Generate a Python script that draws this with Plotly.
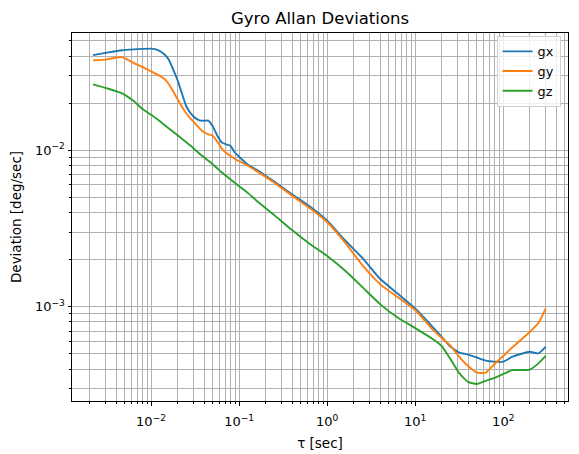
import plotly.graph_objects as go

tau = [0.00219, 0.00316, 0.00468, 0.00631, 0.00794, 0.0100, 0.0120, 0.0141, 0.0158, 0.0178,
       0.0200, 0.0224, 0.0251, 0.0282, 0.0316, 0.0355, 0.0398, 0.0447, 0.0501, 0.0562,
       0.0631, 0.0708, 0.0794, 0.0891, 0.100, 0.126, 0.158, 0.251, 0.398, 0.631,
       1.00, 1.58, 2.51, 3.98, 6.31, 10.0, 15.8, 20.0, 25.1, 31.6,
       39.8, 50.1, 63.1, 79.4, 100.0, 126.0, 158.0, 200.0, 251.0, 304.0]

gx = [0.0405, 0.0420, 0.0435, 0.0441, 0.0444, 0.0446, 0.0436, 0.0410, 0.0381, 0.0329,
      0.0280, 0.0231, 0.0191, 0.0172, 0.0161, 0.01553, 0.01543, 0.01547, 0.01422, 0.01247,
      0.01125, 0.01092, 0.01068, 0.00971, 0.00909, 0.00808, 0.00751, 0.00630, 0.00524, 0.00439,
      0.00355, 0.00267, 0.00205, 0.00151, 0.001214, 0.000974, 0.000742, 0.000641, 0.000557, 0.000510,
      0.000495, 0.000474, 0.000453, 0.000446, 0.000446, 0.000478, 0.000499, 0.000516, 0.000504, 0.000556]

gy = [0.03752, 0.03808, 0.03937, 0.03618, 0.03410, 0.03192, 0.03033, 0.02860, 0.02657, 0.02379,
      0.02115, 0.01895, 0.01722, 0.01589, 0.01487, 0.01381, 0.01303, 0.01265, 0.01237, 0.01141,
      0.01030, 0.00964, 0.00922, 0.00883, 0.00851, 0.00796, 0.00735, 0.00620, 0.00513, 0.00427,
      0.00347, 0.00259, 0.001845, 0.001396, 0.001153, 0.000953, 0.000715, 0.000631, 0.000565, 0.000478,
      0.000418, 0.000380, 0.000380, 0.000431, 0.000485, 0.000549, 0.000613, 0.000690, 0.000787, 0.000977]

gz = [0.02637, 0.02487, 0.02311, 0.02069, 0.01840, 0.01684, 0.01565, 0.01454, 0.01381, 0.01312,
      0.01247, 0.01184, 0.01125, 0.01068, 0.01007, 0.00950, 0.00902, 0.00857, 0.00814, 0.00768,
      0.00724, 0.00688, 0.00653, 0.00620, 0.00589, 0.00532, 0.00476, 0.00385, 0.00309, 0.00253,
      0.00211, 0.00171, 0.001335, 0.001040, 0.000853, 0.000731, 0.000622, 0.000561, 0.000464, 0.000377,
      0.000331, 0.000321, 0.000336, 0.000351, 0.000372, 0.000394, 0.000394, 0.000397, 0.000435, 0.000485]

series_names = ["gx", "gy", "gz"]
series_colors = ["#1f77b4", "#ff7f0e", "#2ca02c"]

x_major = [0.01, 0.1, 1, 10, 100]
x_major_text = ["10<sup>−2</sup>", "10<sup>−1</sup>", "10<sup>0</sup>", "10<sup>1</sup>", "10<sup>2</sup>"]
y_major = [0.001, 0.01]
y_major_text = ["10<sup>−3</sup>", "10<sup>−2</sup>"]

x_minor = [m * 10.0 ** k for k in range(-3, 3) for m in range(2, 10)]
y_minor = [m * 10.0 ** k for k in range(-4, -1) for m in range(2, 10)]

fig = go.Figure()
for name, vals, col in zip(series_names, [gx, gy, gz], series_colors):
    fig.add_trace(go.Scatter(x=tau, y=vals, mode="lines", name=name,
                             line=dict(color=col, width=1.9, shape="spline", smoothing=0.5)))

grid_col = "#b0b0b0"
font_fam = "DejaVu Sans"
lab_size = 13.5
tick_size = 13

fig.update_xaxes(type="log", range=[-2.898, 2.735], automargin=False,
                 tickmode="array", tickvals=x_major, ticktext=x_major_text,
                 ticks="outside", ticklen=3.5, tickwidth=1, tickcolor="black",
                 ticklabelstandoff=5,
                 showgrid=True, gridcolor=grid_col, gridwidth=1,
                 showline=True, linecolor="black", linewidth=1, mirror=True,
                 zeroline=False,
                 minor=dict(tickmode="array", tickvals=x_minor, ticks="outside", ticklen=2,
                            tickcolor="black", tickwidth=0.8, showgrid=True,
                            gridcolor=grid_col, gridwidth=1),
                 title=dict(text="τ [sec]", font=dict(size=lab_size, color="black", family=font_fam), standoff=10),
                 tickfont=dict(size=tick_size, color="black", family=font_fam))
fig.update_yaxes(type="log", range=[-3.602, -1.251], automargin=False,
                 tickmode="array", tickvals=y_major, ticktext=y_major_text,
                 ticks="outside", ticklen=3.5, tickwidth=1, tickcolor="black",
                 showgrid=True, gridcolor=grid_col, gridwidth=1,
                 showline=True, linecolor="black", linewidth=1, mirror=True,
                 zeroline=False,
                 minor=dict(tickmode="array", tickvals=y_minor, ticks="outside", ticklen=2,
                            tickcolor="black", tickwidth=0.8, showgrid=True,
                            gridcolor=grid_col, gridwidth=1),
                 title=dict(text="Deviation [deg/sec]", font=dict(size=lab_size, color="black", family=font_fam), standoff=15),
                 tickfont=dict(size=tick_size, color="black", family=font_fam))

fig.update_layout(
    width=571, height=446,
    margin=dict(l=64.3, r=11, t=24.7, b=53, autoexpand=False),
    paper_bgcolor="white", plot_bgcolor="white",
    title=dict(text="Gyro Allan Deviations", x=0.5, xanchor="center", xref="paper",
               y=1 - 10.5 / 446, yanchor="middle",
               font=dict(size=16.5, color="black", family=font_fam)),
    font=dict(family=font_fam, color="black"),
    showlegend=True,
    legend=dict(x=0.985, y=0.993, xanchor="right", yanchor="top",
                bgcolor="rgba(255,255,255,0.8)", bordercolor="#d0d0d0", borderwidth=1,
                font=dict(size=12.8, color="black", family=font_fam),
                itemwidth=30, tracegroupgap=0),
)

fig.write_html("out.html")
